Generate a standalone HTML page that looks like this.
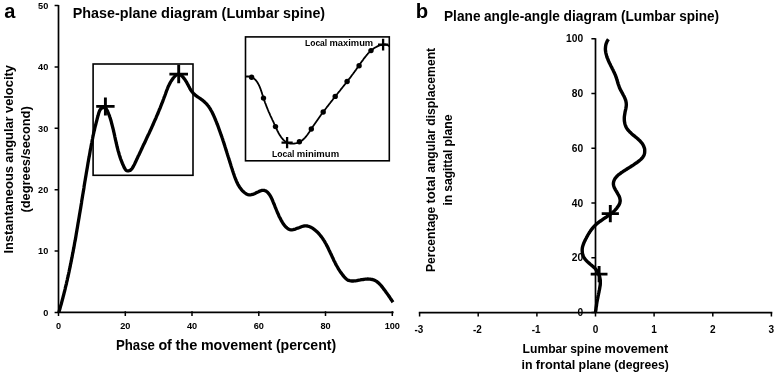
<!DOCTYPE html>
<html lang="en"><head><meta charset="utf-8"><title>Phase-plane diagram</title>
<style>html,body{margin:0;padding:0;background:#fff}svg{display:block}</style></head>
<body>
<svg width="778" height="376" viewBox="0 0 778 376" font-family="'Liberation Sans', sans-serif" font-weight="700" fill="#000">
<rect width="778" height="376" fill="#fff"/>
<g stroke="#000" stroke-width="1.7" fill="none">
<path d="M58.5 4.9V312.4H393.6"/>
<path d="M54.6 312.4H58.5M54.6 251.0H58.5M54.6 189.7H58.5M54.6 128.3H58.5M54.6 67.0H58.5M54.6 5.6H58.5M58.5 311.2V316M125.3 311.2V316M192.0 311.2V316M258.8 311.2V316M325.5 311.2V316M392.3 311.2V316" stroke-width="1.5"/>
<path d="M595.5 38.2V312.6"/>
<path d="M418.8 312.6H772.3"/>
<path d="M591.4 312.6H595.5M591.4 257.8H595.5M591.4 203.1H595.5M591.4 148.3H595.5M591.4 93.6H595.5M591.4 38.8H595.5M419.6 312.6V316.6M478.2 312.6V316.6M536.9 312.6V316.6M595.5 312.6V316.6M654.1 312.6V316.6M712.8 312.6V316.6M771.4 312.6V316.6" stroke-width="1.5"/>
</g>
<g stroke="#000" stroke-width="1.6" fill="none"><rect x="93.1" y="64" width="99.9" height="111.3"/><rect x="245.5" y="36.9" width="143.8" height="123.9"/></g>
<path d="M58.9 312.3 L59.2 311.2 L59.5 310.0 L59.9 308.9 L60.2 307.7 L60.5 306.6 L60.8 305.4 L61.2 304.2 L61.5 303.1 L61.8 301.9 L62.1 300.8 L62.4 299.6 L62.7 298.5 L63.0 297.3 L63.3 296.1 L63.6 295.0 L63.9 293.8 L64.2 292.6 L64.5 291.5 L64.8 290.3 L65.1 289.1 L65.3 288.0 L65.6 286.8 L65.9 285.6 L66.2 284.5 L66.5 283.3 L66.7 282.1 L67.0 281.0 L67.3 279.8 L67.5 278.6 L67.8 277.4 L68.1 276.3 L68.3 275.1 L68.6 273.9 L68.8 272.8 L69.1 271.6 L69.3 270.4 L69.6 269.2 L69.8 268.1 L70.1 266.9 L70.3 265.7 L70.5 264.5 L70.8 263.4 L71.0 262.2 L71.3 261.0 L71.5 259.8 L71.7 258.6 L72.0 257.5 L72.2 256.3 L72.4 255.1 L72.6 253.9 L72.9 252.7 L73.1 251.6 L73.3 250.4 L73.5 249.2 L73.8 248.0 L74.0 246.8 L74.2 245.7 L74.4 244.5 L74.6 243.3 L74.8 242.1 L75.1 240.9 L75.3 239.7 L75.5 238.6 L75.7 237.4 L75.9 236.2 L76.1 235.0 L76.3 233.8 L76.5 232.6 L76.7 231.4 L76.9 230.3 L77.1 229.1 L77.3 227.9 L77.5 226.7 L77.7 225.5 L77.9 224.3 L78.1 223.1 L78.3 222.0 L78.5 220.8 L78.7 219.6 L78.9 218.4 L79.1 217.2 L79.3 216.0 L79.5 214.8 L79.7 213.6 L79.9 212.5 L80.1 211.3 L80.3 210.1 L80.5 208.9 L80.7 207.7 L80.9 206.5 L81.1 205.3 L81.3 204.1 L81.5 203.0 L81.6 201.8 L81.8 200.6 L82.0 199.4 L82.2 198.2 L82.4 197.0 L82.6 195.8 L82.8 194.6 L83.0 193.5 L83.2 192.3 L83.4 191.1 L83.6 189.9 L83.8 188.7 L84.0 187.5 L84.1 186.3 L84.3 185.2 L84.5 184.0 L84.7 182.8 L84.9 181.6 L85.1 180.4 L85.3 179.2 L85.5 178.0 L85.7 176.9 L85.9 175.7 L86.1 174.5 L86.3 173.3 L86.5 172.1 L86.7 170.9 L86.9 169.7 L87.1 168.6 L87.3 167.4 L87.5 166.2 L87.7 165.0 L87.9 163.8 L88.1 162.6 L88.3 161.5 L88.5 160.3 L88.7 159.1 L88.9 157.9 L89.2 156.7 L89.4 155.5 L89.6 154.4 L89.8 153.2 L90.0 152.0 L90.2 150.8 L90.4 149.6 L90.7 148.5 L90.9 147.3 L91.1 146.1 L91.3 144.9 L91.5 143.8 L91.8 142.6 L92.0 141.4 L92.2 140.2 L92.5 139.1 L92.7 137.9 L92.9 136.7 L93.2 135.5 L93.4 134.4 L93.7 133.2 L93.9 132.0 L94.2 130.8 L94.5 129.7 L94.7 128.5 L95.0 127.3 L95.3 126.1 L95.6 125.0 L95.9 123.8 L96.2 122.6 L96.5 121.5 L96.8 120.3 L97.1 119.1 L97.4 118.0 L97.7 116.8 L98.1 115.6 L98.4 114.4 L98.7 113.3 L99.1 112.1 L99.5 111.0 L100.0 109.9 L100.7 109.0 L101.5 108.2 L102.7 107.7 L104.0 107.5 L105.1 107.7 L106.0 108.4 L106.6 109.5 L107.2 110.6 L107.7 111.6 L108.2 112.8 L108.6 113.9 L109.1 115.0 L109.5 116.1 L109.9 117.3 L110.3 118.4 L110.6 119.6 L111.0 120.8 L111.3 121.9 L111.6 123.1 L111.9 124.2 L112.2 125.4 L112.5 126.6 L112.8 127.7 L113.1 128.9 L113.4 130.1 L113.6 131.2 L113.9 132.4 L114.2 133.6 L114.4 134.7 L114.7 135.9 L114.9 137.1 L115.2 138.2 L115.4 139.4 L115.7 140.6 L116.0 141.7 L116.2 142.9 L116.5 144.1 L116.8 145.2 L117.0 146.4 L117.3 147.5 L117.6 148.7 L117.9 149.9 L118.2 151.0 L118.6 152.2 L118.9 153.3 L119.2 154.5 L119.6 155.6 L119.9 156.8 L120.3 157.9 L120.7 159.1 L121.1 160.2 L121.6 161.4 L122.0 162.5 L122.5 163.7 L123.0 164.8 L123.5 165.9 L124.0 167.1 L124.6 168.2 L125.2 169.2 L125.9 170.1 L126.7 170.7 L127.7 170.9 L128.9 170.8 L130.1 170.4 L131.1 169.6 L132.0 168.7 L132.6 167.7 L133.2 166.6 L133.8 165.5 L134.4 164.5 L134.9 163.4 L135.4 162.3 L135.9 161.2 L136.4 160.1 L136.9 159.0 L137.4 158.0 L137.9 156.9 L138.4 155.8 L139.0 154.7 L139.5 153.6 L140.0 152.5 L140.5 151.5 L141.0 150.4 L141.5 149.3 L142.0 148.2 L142.5 147.1 L143.0 146.0 L143.5 144.9 L144.1 143.9 L144.6 142.8 L145.1 141.7 L145.6 140.6 L146.1 139.5 L146.6 138.4 L147.1 137.3 L147.6 136.2 L148.1 135.1 L148.7 134.0 L149.2 133.0 L149.7 131.9 L150.2 130.8 L150.7 129.7 L151.2 128.6 L151.7 127.5 L152.2 126.4 L152.7 125.3 L153.2 124.2 L153.6 123.1 L154.1 122.0 L154.6 120.9 L155.1 119.8 L155.6 118.7 L156.1 117.6 L156.5 116.5 L157.0 115.4 L157.5 114.3 L158.0 113.2 L158.4 112.0 L158.9 110.9 L159.3 109.8 L159.8 108.7 L160.3 107.6 L160.7 106.5 L161.1 105.4 L161.6 104.3 L162.0 103.1 L162.5 102.0 L162.9 100.9 L163.3 99.8 L163.7 98.7 L164.1 97.5 L164.6 96.4 L165.0 95.3 L165.4 94.2 L165.8 93.0 L166.2 91.9 L166.6 90.8 L167.0 89.7 L167.5 88.6 L167.9 87.4 L168.4 86.3 L168.9 85.3 L169.4 84.2 L170.0 83.1 L170.6 82.0 L171.2 81.0 L171.9 80.0 L172.6 79.0 L173.3 78.0 L174.2 77.0 L175.0 76.1 L175.9 75.3 L176.9 74.7 L177.8 74.4 L178.8 74.4 L179.7 74.6 L180.7 75.1 L181.6 75.8 L182.5 76.6 L183.4 77.6 L184.2 78.6 L185.0 79.7 L185.7 80.8 L186.4 81.9 L187.0 83.0 L187.6 84.1 L188.2 85.1 L188.7 86.2 L189.3 87.3 L189.8 88.3 L190.4 89.3 L191.0 90.3 L191.6 91.2 L192.3 92.1 L193.0 93.0 L193.8 93.8 L194.7 94.6 L195.6 95.4 L196.6 96.1 L197.6 96.8 L198.6 97.5 L199.6 98.2 L200.7 98.9 L201.7 99.7 L202.7 100.4 L203.7 101.2 L204.6 102.0 L205.4 102.8 L206.3 103.7 L207.1 104.6 L207.8 105.5 L208.6 106.4 L209.2 107.4 L209.9 108.4 L210.5 109.4 L211.1 110.5 L211.7 111.5 L212.3 112.6 L212.8 113.7 L213.3 114.8 L213.8 115.9 L214.3 117.0 L214.8 118.1 L215.2 119.2 L215.7 120.3 L216.1 121.4 L216.6 122.5 L217.0 123.7 L217.5 124.8 L217.9 125.9 L218.3 127.0 L218.7 128.1 L219.1 129.2 L219.5 130.4 L219.9 131.5 L220.3 132.6 L220.7 133.7 L221.1 134.9 L221.5 136.0 L221.9 137.1 L222.3 138.3 L222.7 139.4 L223.0 140.5 L223.4 141.6 L223.8 142.8 L224.1 143.9 L224.5 145.0 L224.9 146.2 L225.2 147.3 L225.6 148.5 L225.9 149.6 L226.3 150.7 L226.7 151.9 L227.0 153.0 L227.4 154.2 L227.7 155.3 L228.1 156.5 L228.5 157.6 L228.8 158.8 L229.2 159.9 L229.6 161.1 L229.9 162.3 L230.3 163.4 L230.7 164.6 L231.0 165.7 L231.4 166.9 L231.8 168.1 L232.2 169.2 L232.5 170.4 L232.9 171.6 L233.3 172.8 L233.7 173.9 L234.1 175.1 L234.5 176.3 L234.9 177.4 L235.4 178.6 L235.8 179.7 L236.3 180.9 L236.8 182.0 L237.3 183.1 L237.8 184.1 L238.4 185.2 L239.0 186.2 L239.6 187.2 L240.3 188.1 L241.0 189.0 L241.7 189.9 L242.5 190.8 L243.3 191.6 L244.1 192.3 L245.0 193.0 L246.0 193.7 L247.0 194.2 L248.0 194.6 L249.1 194.8 L250.2 194.9 L251.4 194.7 L252.6 194.4 L253.8 193.9 L255.0 193.4 L256.2 192.8 L257.4 192.2 L258.6 191.7 L259.8 191.1 L261.0 190.7 L262.1 190.4 L263.2 190.3 L264.2 190.4 L265.1 190.7 L266.1 191.1 L266.9 191.7 L267.8 192.5 L268.5 193.4 L269.3 194.3 L270.0 195.4 L270.7 196.6 L271.3 197.8 L271.9 199.0 L272.5 200.3 L273.0 201.6 L273.5 202.8 L274.0 204.0 L274.5 205.2 L274.9 206.3 L275.3 207.4 L275.8 208.5 L276.2 209.5 L276.6 210.5 L277.0 211.5 L277.4 212.5 L277.9 213.5 L278.4 214.5 L278.8 215.6 L279.3 216.7 L279.9 217.8 L280.5 218.9 L281.1 220.1 L281.7 221.2 L282.4 222.4 L283.1 223.5 L283.8 224.5 L284.6 225.6 L285.4 226.5 L286.2 227.3 L287.1 228.1 L288.0 228.7 L288.9 229.2 L289.9 229.6 L291.0 229.8 L292.0 229.8 L293.1 229.7 L294.2 229.4 L295.4 229.1 L296.6 228.6 L297.8 228.1 L299.0 227.7 L300.2 227.2 L301.4 226.7 L302.6 226.3 L303.8 226.0 L305.0 225.9 L306.2 225.8 L307.4 226.0 L308.5 226.3 L309.7 226.7 L310.8 227.2 L311.8 227.8 L312.9 228.4 L313.9 229.2 L314.8 229.9 L315.8 230.7 L316.7 231.5 L317.6 232.3 L318.4 233.2 L319.2 234.1 L320.0 235.0 L320.7 235.9 L321.5 236.9 L322.2 237.9 L322.9 238.9 L323.5 239.9 L324.2 240.9 L324.8 241.9 L325.4 243.0 L326.0 244.0 L326.6 245.1 L327.1 246.2 L327.7 247.2 L328.2 248.3 L328.7 249.4 L329.2 250.5 L329.8 251.6 L330.3 252.7 L330.8 253.7 L331.3 254.8 L331.8 255.9 L332.3 257.0 L332.8 258.1 L333.3 259.1 L333.8 260.2 L334.3 261.2 L334.9 262.3 L335.4 263.4 L335.9 264.4 L336.5 265.5 L337.1 266.5 L337.7 267.5 L338.3 268.6 L338.9 269.6 L339.6 270.6 L340.2 271.6 L340.9 272.6 L341.7 273.6 L342.4 274.6 L343.2 275.6 L344.0 276.6 L344.9 277.6 L345.7 278.5 L346.7 279.3 L347.6 279.9 L348.6 280.4 L349.7 280.7 L350.8 280.9 L351.9 281.0 L353.1 281.0 L354.3 280.9 L355.5 280.8 L356.7 280.6 L357.9 280.3 L359.2 280.1 L360.4 279.9 L361.6 279.6 L362.9 279.5 L364.1 279.3 L365.3 279.2 L366.6 279.1 L367.8 279.0 L368.9 279.1 L370.1 279.1 L371.2 279.3 L372.4 279.5 L373.5 279.9 L374.5 280.3 L375.6 280.8 L376.6 281.4 L377.5 282.1 L378.5 282.9 L379.4 283.7 L380.2 284.7 L381.1 285.6 L381.9 286.6 L382.7 287.6 L383.4 288.6 L384.2 289.6 L384.9 290.6 L385.6 291.5 L386.3 292.5 L387.0 293.4 L387.7 294.4 L388.4 295.3 L389.0 296.3 L389.7 297.3 L390.3 298.2 L391.0 299.2 L391.7 300.2 L392.3 301.3 L393.0 302.3" stroke="#000" stroke-width="3.3" fill="none" stroke-linejoin="round" stroke-linecap="butt"/>
<path d="M608.4 39.3 L607.6 40.4 L607.0 41.6 L606.5 42.7 L606.1 43.9 L605.8 45.0 L605.6 46.2 L605.5 47.3 L605.4 48.5 L605.4 49.7 L605.5 50.8 L605.7 52.0 L605.9 53.1 L606.2 54.3 L606.5 55.4 L606.8 56.6 L607.2 57.7 L607.7 58.8 L608.1 60.0 L608.6 61.1 L609.1 62.2 L609.6 63.3 L610.2 64.4 L610.7 65.5 L611.2 66.5 L611.8 67.6 L612.3 68.7 L612.9 69.8 L613.4 70.9 L613.9 71.9 L614.4 73.0 L614.9 74.1 L615.4 75.2 L615.8 76.3 L616.2 77.4 L616.6 78.6 L616.9 79.7 L617.3 80.8 L617.6 82.0 L617.9 83.1 L618.3 84.3 L618.7 85.4 L619.1 86.5 L619.5 87.7 L620.0 88.8 L620.5 89.9 L621.1 90.9 L621.7 92.0 L622.3 93.1 L622.9 94.2 L623.4 95.2 L624.0 96.3 L624.5 97.4 L625.0 98.5 L625.4 99.6 L625.8 100.7 L626.0 101.8 L626.2 102.9 L626.3 104.1 L626.3 105.2 L626.2 106.4 L626.0 107.6 L625.8 108.8 L625.5 110.1 L625.2 111.3 L625.0 112.5 L624.8 113.8 L624.6 115.0 L624.4 116.3 L624.3 117.5 L624.3 118.7 L624.3 119.9 L624.4 121.1 L624.6 122.3 L624.8 123.4 L625.1 124.5 L625.5 125.6 L625.9 126.7 L626.4 127.7 L627.0 128.7 L627.7 129.6 L628.4 130.5 L629.3 131.4 L630.1 132.3 L631.0 133.1 L631.9 134.0 L632.9 134.8 L633.9 135.6 L634.9 136.4 L635.8 137.2 L636.8 138.0 L637.8 138.8 L638.7 139.7 L639.6 140.5 L640.4 141.4 L641.2 142.3 L642.0 143.2 L642.6 144.1 L643.2 145.1 L643.7 146.2 L644.1 147.3 L644.5 148.4 L644.7 149.5 L644.7 150.7 L644.7 151.9 L644.6 153.1 L644.3 154.2 L643.9 155.4 L643.3 156.4 L642.7 157.4 L641.9 158.3 L641.0 159.2 L640.1 160.0 L639.1 160.8 L638.1 161.6 L637.2 162.3 L636.2 163.0 L635.2 163.7 L634.2 164.4 L633.2 165.1 L632.2 165.7 L631.2 166.3 L630.2 167.0 L629.2 167.6 L628.2 168.2 L627.2 168.8 L626.2 169.5 L625.2 170.1 L624.2 170.8 L623.2 171.4 L622.2 172.1 L621.1 172.8 L620.1 173.6 L619.1 174.3 L618.2 175.1 L617.2 176.0 L616.4 176.9 L615.6 177.8 L614.9 178.8 L614.4 179.8 L613.9 180.9 L613.6 182.0 L613.4 183.1 L613.4 184.3 L613.6 185.4 L613.9 186.5 L614.3 187.6 L614.9 188.7 L615.4 189.8 L616.1 190.9 L616.8 192.0 L617.4 193.1 L618.0 194.2 L618.6 195.3 L619.2 196.4 L619.6 197.5 L619.9 198.7 L620.1 199.8 L620.2 200.9 L620.0 202.0 L619.8 203.1 L619.3 204.2 L618.8 205.3 L618.1 206.3 L617.4 207.3 L616.7 208.3 L615.9 209.2 L615.1 210.1 L614.3 210.9 L613.4 211.8 L612.5 212.6 L611.5 213.3 L610.6 214.1 L609.6 214.8 L608.6 215.5 L607.6 216.2 L606.6 216.9 L605.6 217.6 L604.5 218.2 L603.5 218.9 L602.5 219.6 L601.5 220.3 L600.5 221.0 L599.5 221.7 L598.6 222.4 L597.6 223.2 L596.7 223.9 L595.8 224.7 L595.0 225.5 L594.1 226.4 L593.3 227.2 L592.6 228.1 L591.8 229.1 L591.1 230.0 L590.4 231.0 L589.8 232.0 L589.1 233.0 L588.5 234.0 L587.9 235.0 L587.3 236.1 L586.7 237.1 L586.2 238.2 L585.6 239.3 L585.1 240.4 L584.5 241.5 L584.0 242.6 L583.6 243.7 L583.2 244.8 L582.8 246.0 L582.5 247.1 L582.3 248.3 L582.2 249.5 L582.2 250.7 L582.3 251.9 L582.4 253.1 L582.7 254.3 L583.0 255.4 L583.4 256.5 L584.0 257.5 L584.6 258.5 L585.3 259.4 L586.1 260.3 L586.9 261.2 L587.8 262.0 L588.7 262.9 L589.7 263.7 L590.6 264.5 L591.6 265.3 L592.5 266.1 L593.5 266.9 L594.3 267.8 L595.2 268.6 L596.0 269.6 L596.7 270.5 L597.3 271.5 L597.9 272.5 L598.5 273.6 L598.9 274.6 L599.3 275.7 L599.7 276.8 L599.9 278.0 L600.1 279.1 L600.3 280.3 L600.3 281.5 L600.3 282.7 L600.3 283.9 L600.2 285.1 L600.0 286.3 L599.8 287.5 L599.6 288.7 L599.4 289.9 L599.1 291.2 L598.9 292.4 L598.6 293.6 L598.4 294.8 L598.1 296.0 L597.9 297.1 L597.7 298.3 L597.4 299.5 L597.2 300.7 L597.0 301.8 L596.8 303.0 L596.6 304.2 L596.5 305.4 L596.3 306.5 L596.1 307.7 L596.0 308.9 L595.8 310.1 L595.6 311.3 L595.5 312.5" stroke="#000" stroke-width="3.4" fill="none" stroke-linejoin="round" stroke-linecap="butt"/>
<path d="M245.6 76.6 L246.9 76.5 L248.2 76.5 L249.4 76.6 L250.5 76.8 L251.6 77.2 L252.6 77.7 L253.5 78.2 L254.4 78.9 L255.2 79.6 L255.9 80.4 L256.6 81.3 L257.3 82.3 L257.9 83.3 L258.5 84.4 L259.1 85.5 L259.6 86.7 L260.1 87.9 L260.6 89.1 L261.0 90.4 L261.5 91.7 L261.9 92.9 L262.3 94.2 L262.7 95.5 L263.1 96.8 L263.5 98.0 L263.9 99.2 L264.3 100.4 L264.7 101.6 L265.1 102.8 L265.6 103.9 L266.0 105.0 L266.4 106.2 L266.9 107.3 L267.3 108.3 L267.7 109.4 L268.2 110.5 L268.6 111.6 L269.1 112.6 L269.6 113.7 L270.0 114.7 L270.5 115.8 L271.0 116.8 L271.5 117.9 L272.0 119.0 L272.5 120.1 L273.0 121.1 L273.5 122.2 L274.0 123.3 L274.5 124.5 L275.0 125.6 L275.6 126.8 L276.1 127.9 L276.7 129.1 L277.2 130.3 L277.8 131.5 L278.4 132.7 L279.0 133.8 L279.7 134.9 L280.4 136.0 L281.1 137.1 L281.8 138.0 L282.6 139.0 L283.4 139.8 L284.3 140.6 L285.2 141.4 L286.1 142.0 L287.1 142.5 L288.2 142.9 L289.3 143.3 L290.4 143.5 L291.6 143.6 L292.8 143.6 L294.0 143.6 L295.2 143.4 L296.3 143.2 L297.5 142.9 L298.6 142.4 L299.7 142.0 L300.7 141.4 L301.6 140.7 L302.6 140.0 L303.4 139.3 L304.3 138.4 L305.1 137.6 L305.9 136.7 L306.6 135.7 L307.4 134.7 L308.1 133.7 L308.8 132.7 L309.5 131.7 L310.1 130.6 L310.8 129.6 L311.5 128.5 L312.2 127.5 L312.9 126.4 L313.6 125.4 L314.3 124.4 L315.0 123.4 L315.7 122.4 L316.4 121.4 L317.1 120.4 L317.8 119.4 L318.5 118.4 L319.2 117.4 L319.9 116.4 L320.6 115.4 L321.3 114.5 L322.0 113.5 L322.8 112.5 L323.5 111.6 L324.2 110.6 L324.9 109.7 L325.7 108.7 L326.4 107.8 L327.1 106.8 L327.9 105.9 L328.6 104.9 L329.3 104.0 L330.1 103.1 L330.8 102.1 L331.5 101.2 L332.3 100.3 L333.0 99.3 L333.7 98.4 L334.5 97.5 L335.2 96.5 L336.0 95.6 L336.7 94.7 L337.4 93.8 L338.2 92.8 L338.9 91.9 L339.7 91.0 L340.4 90.1 L341.1 89.1 L341.9 88.2 L342.6 87.3 L343.4 86.3 L344.1 85.4 L344.8 84.5 L345.6 83.5 L346.3 82.6 L347.0 81.6 L347.8 80.7 L348.5 79.8 L349.2 78.8 L350.0 77.9 L350.7 76.9 L351.4 75.9 L352.1 75.0 L352.9 74.0 L353.6 73.0 L354.3 72.1 L355.0 71.1 L355.8 70.1 L356.5 69.1 L357.2 68.1 L357.9 67.1 L358.6 66.1 L359.3 65.1 L360.0 64.1 L360.7 63.1 L361.4 62.1 L362.1 61.1 L362.9 60.1 L363.6 59.1 L364.3 58.1 L365.1 57.1 L365.8 56.2 L366.6 55.2 L367.4 54.3 L368.1 53.4 L369.0 52.6 L369.8 51.7 L370.7 50.9 L371.5 50.2 L372.4 49.4 L373.4 48.7 L374.3 48.1 L375.3 47.5 L376.3 46.9 L377.4 46.4 L378.4 45.9 L379.6 45.5 L380.7 45.2 L381.9 44.9 L383.1 44.7 L384.4 44.5 L385.7 44.5 L386.9 44.8 L388.0 45.3 L389.1 46.2" stroke="#000" stroke-width="1.8" fill="none" stroke-linejoin="round"/>
<circle cx="251.6" cy="77.2" r="2.7"/>
<circle cx="263.5" cy="98.1" r="2.7"/>
<circle cx="275.5" cy="126.6" r="2.7"/>
<circle cx="299.4" cy="141.8" r="2.7"/>
<circle cx="311.3" cy="129.0" r="2.7"/>
<circle cx="323.2" cy="112.0" r="2.7"/>
<circle cx="335.2" cy="96.4" r="2.7"/>
<circle cx="347.1" cy="81.5" r="2.7"/>
<circle cx="359.1" cy="65.7" r="2.7"/>
<circle cx="371.0" cy="50.6" r="2.7"/>
<path d="M281.5 142.6H292.7M287.1 136.9V148.3" stroke="#000" stroke-width="2.3" fill="none"/>
<path d="M378.0 44.7H388.2M383.1 38.8V50.6" stroke="#000" stroke-width="2.3" fill="none"/>
<path d="M96.2 106.4H114.6M105.4 97.4V115.4" stroke="#000" stroke-width="2.9" fill="none"/>
<path d="M169.4 74.1H188.0M178.7 64.8V83.3" stroke="#000" stroke-width="2.9" fill="none"/>
<path d="M601.7 213.6H618.9M610.3 205.0V222.2" stroke="#000" stroke-width="2.9" fill="none"/>
<path d="M590.7 274.1H607.5M599.1 266.0V282.2" stroke="#000" stroke-width="2.9" fill="none"/>
<text x="4.2" y="18.2" font-size="20.00">a</text>
<text x="415.8" y="18.0" font-size="20.30">b</text>
<text x="72.8" y="18.2" font-size="14.90" textLength="84.5" lengthAdjust="spacingAndGlyphs">Phase-plane</text>
<text x="161.1" y="18.2" font-size="14.90" textLength="56.7" lengthAdjust="spacingAndGlyphs">diagram</text>
<text x="221.6" y="18.2" font-size="14.90" textLength="57.7" lengthAdjust="spacingAndGlyphs">(Lumbar</text>
<text x="283.0" y="18.2" font-size="14.90" textLength="42.1" lengthAdjust="spacingAndGlyphs">spine)</text>
<text x="444.0" y="20.9" font-size="13.90" textLength="36.5" lengthAdjust="spacingAndGlyphs">Plane</text>
<text x="484.0" y="20.9" font-size="13.90" textLength="75.9" lengthAdjust="spacingAndGlyphs">angle-angle</text>
<text x="563.5" y="20.9" font-size="13.90" textLength="53.8" lengthAdjust="spacingAndGlyphs">diagram</text>
<text x="620.9" y="20.9" font-size="13.90" textLength="54.7" lengthAdjust="spacingAndGlyphs">(Lumbar</text>
<text x="679.2" y="20.9" font-size="13.90" textLength="39.9" lengthAdjust="spacingAndGlyphs">spine)</text>
<text x="116.0" y="349.5" font-size="13.80" textLength="38.9" lengthAdjust="spacingAndGlyphs">Phase</text>
<text x="158.4" y="349.5" font-size="13.80" textLength="13.5" lengthAdjust="spacingAndGlyphs">of</text>
<text x="175.5" y="349.5" font-size="13.80" textLength="21.9" lengthAdjust="spacingAndGlyphs">the</text>
<text x="200.9" y="349.5" font-size="13.80" textLength="71.4" lengthAdjust="spacingAndGlyphs">movement</text>
<text x="275.9" y="349.5" font-size="13.80" textLength="60.3" lengthAdjust="spacingAndGlyphs">(percent)</text>
<text x="522.6" y="352.5" font-size="12.30" textLength="44.4" lengthAdjust="spacingAndGlyphs">Lumbar</text>
<text x="570.2" y="352.5" font-size="12.30" textLength="31.2" lengthAdjust="spacingAndGlyphs">spine</text>
<text x="604.6" y="352.5" font-size="12.30" textLength="63.6" lengthAdjust="spacingAndGlyphs">movement</text>
<text x="521.6" y="368.9" font-size="12.30" textLength="11.0" lengthAdjust="spacingAndGlyphs">in</text>
<text x="535.7" y="368.9" font-size="12.30" textLength="39.7" lengthAdjust="spacingAndGlyphs">frontal</text>
<text x="578.6" y="368.9" font-size="12.30" textLength="32.4" lengthAdjust="spacingAndGlyphs">plane</text>
<text x="614.2" y="368.9" font-size="12.30" textLength="54.6" lengthAdjust="spacingAndGlyphs">(degrees)</text>
<text x="13.4" y="253.6" font-size="13.00" textLength="87.6" lengthAdjust="spacingAndGlyphs" transform="rotate(-90 13.4 253.6)">Instantaneous</text>
<text x="13.4" y="162.7" font-size="13.00" textLength="46.3" lengthAdjust="spacingAndGlyphs" transform="rotate(-90 13.4 162.7)">angular</text>
<text x="13.4" y="113.0" font-size="13.00" textLength="47.9" lengthAdjust="spacingAndGlyphs" transform="rotate(-90 13.4 113.0)">velocity</text>
<text x="30.0" y="212.5" font-size="13.00" textLength="106.2" lengthAdjust="spacingAndGlyphs" transform="rotate(-90 30.0 212.5)">(degrees/second)</text>
<text x="435.2" y="272.0" font-size="12.30" textLength="65.3" lengthAdjust="spacingAndGlyphs" transform="rotate(-90 435.2 272.0)">Percentage</text>
<text x="435.2" y="203.6" font-size="12.30" textLength="27.6" lengthAdjust="spacingAndGlyphs" transform="rotate(-90 435.2 203.6)">total</text>
<text x="435.2" y="172.8" font-size="12.30" textLength="43.9" lengthAdjust="spacingAndGlyphs" transform="rotate(-90 435.2 172.8)">angular</text>
<text x="435.2" y="125.8" font-size="12.30" textLength="78.0" lengthAdjust="spacingAndGlyphs" transform="rotate(-90 435.2 125.8)">displacement</text>
<text x="451.6" y="205.6" font-size="12.30" textLength="10.8" lengthAdjust="spacingAndGlyphs" transform="rotate(-90 451.6 205.6)">in</text>
<text x="451.6" y="191.7" font-size="12.30" textLength="42.1" lengthAdjust="spacingAndGlyphs" transform="rotate(-90 451.6 191.7)">sagittal</text>
<text x="451.6" y="146.4" font-size="12.30" textLength="32.0" lengthAdjust="spacingAndGlyphs" transform="rotate(-90 451.6 146.4)">plane</text>
<text x="305.0" y="46.0" font-size="9.40" textLength="22.2" lengthAdjust="spacingAndGlyphs">Local</text>
<text x="329.5" y="46.0" font-size="9.40" textLength="43.7" lengthAdjust="spacingAndGlyphs">maximum</text>
<text x="272.0" y="157.1" font-size="9.40" textLength="22.4" lengthAdjust="spacingAndGlyphs">Local</text>
<text x="296.8" y="157.1" font-size="9.40" textLength="42.3" lengthAdjust="spacingAndGlyphs">minimum</text>
<text x="48.3" y="315.6" font-size="9.60" text-anchor="end" textLength="5.1" lengthAdjust="spacingAndGlyphs">0</text>
<text x="48.3" y="254.2" font-size="9.60" text-anchor="end" textLength="10.2" lengthAdjust="spacingAndGlyphs">10</text>
<text x="48.3" y="192.9" font-size="9.60" text-anchor="end" textLength="10.2" lengthAdjust="spacingAndGlyphs">20</text>
<text x="48.3" y="131.5" font-size="9.60" text-anchor="end" textLength="10.2" lengthAdjust="spacingAndGlyphs">30</text>
<text x="48.3" y="70.2" font-size="9.60" text-anchor="end" textLength="10.2" lengthAdjust="spacingAndGlyphs">40</text>
<text x="48.3" y="8.8" font-size="9.60" text-anchor="end" textLength="10.2" lengthAdjust="spacingAndGlyphs">50</text>
<text x="58.5" y="329.3" font-size="9.60" text-anchor="middle" textLength="5.1" lengthAdjust="spacingAndGlyphs">0</text>
<text x="125.3" y="329.3" font-size="9.60" text-anchor="middle" textLength="10.2" lengthAdjust="spacingAndGlyphs">20</text>
<text x="192.0" y="329.3" font-size="9.60" text-anchor="middle" textLength="10.2" lengthAdjust="spacingAndGlyphs">40</text>
<text x="258.8" y="329.3" font-size="9.60" text-anchor="middle" textLength="10.2" lengthAdjust="spacingAndGlyphs">60</text>
<text x="325.5" y="329.3" font-size="9.60" text-anchor="middle" textLength="10.2" lengthAdjust="spacingAndGlyphs">80</text>
<text x="392.3" y="329.3" font-size="9.60" text-anchor="middle" textLength="15.3" lengthAdjust="spacingAndGlyphs">100</text>
<text x="583.1" y="316.2" font-size="10.60" text-anchor="end" textLength="5.7" lengthAdjust="spacingAndGlyphs">0</text>
<text x="583.1" y="261.4" font-size="10.60" text-anchor="end" textLength="11.4" lengthAdjust="spacingAndGlyphs">20</text>
<text x="583.1" y="206.7" font-size="10.60" text-anchor="end" textLength="11.4" lengthAdjust="spacingAndGlyphs">40</text>
<text x="583.1" y="151.9" font-size="10.60" text-anchor="end" textLength="11.4" lengthAdjust="spacingAndGlyphs">60</text>
<text x="583.1" y="97.2" font-size="10.60" text-anchor="end" textLength="11.4" lengthAdjust="spacingAndGlyphs">80</text>
<text x="583.1" y="42.4" font-size="10.60" text-anchor="end" textLength="17.1" lengthAdjust="spacingAndGlyphs">100</text>
<text x="418.8" y="332.7" font-size="10.60" text-anchor="middle" textLength="8.8" lengthAdjust="spacingAndGlyphs">-3</text>
<text x="477.4" y="332.7" font-size="10.60" text-anchor="middle" textLength="8.8" lengthAdjust="spacingAndGlyphs">-2</text>
<text x="536.1" y="332.7" font-size="10.60" text-anchor="middle" textLength="8.8" lengthAdjust="spacingAndGlyphs">-1</text>
<text x="595.5" y="332.7" font-size="10.60" text-anchor="middle" textLength="5.6" lengthAdjust="spacingAndGlyphs">0</text>
<text x="654.1" y="332.7" font-size="10.60" text-anchor="middle" textLength="5.6" lengthAdjust="spacingAndGlyphs">1</text>
<text x="712.8" y="332.7" font-size="10.60" text-anchor="middle" textLength="5.6" lengthAdjust="spacingAndGlyphs">2</text>
<text x="771.4" y="332.7" font-size="10.60" text-anchor="middle" textLength="5.6" lengthAdjust="spacingAndGlyphs">3</text>
</svg>
</body></html>
